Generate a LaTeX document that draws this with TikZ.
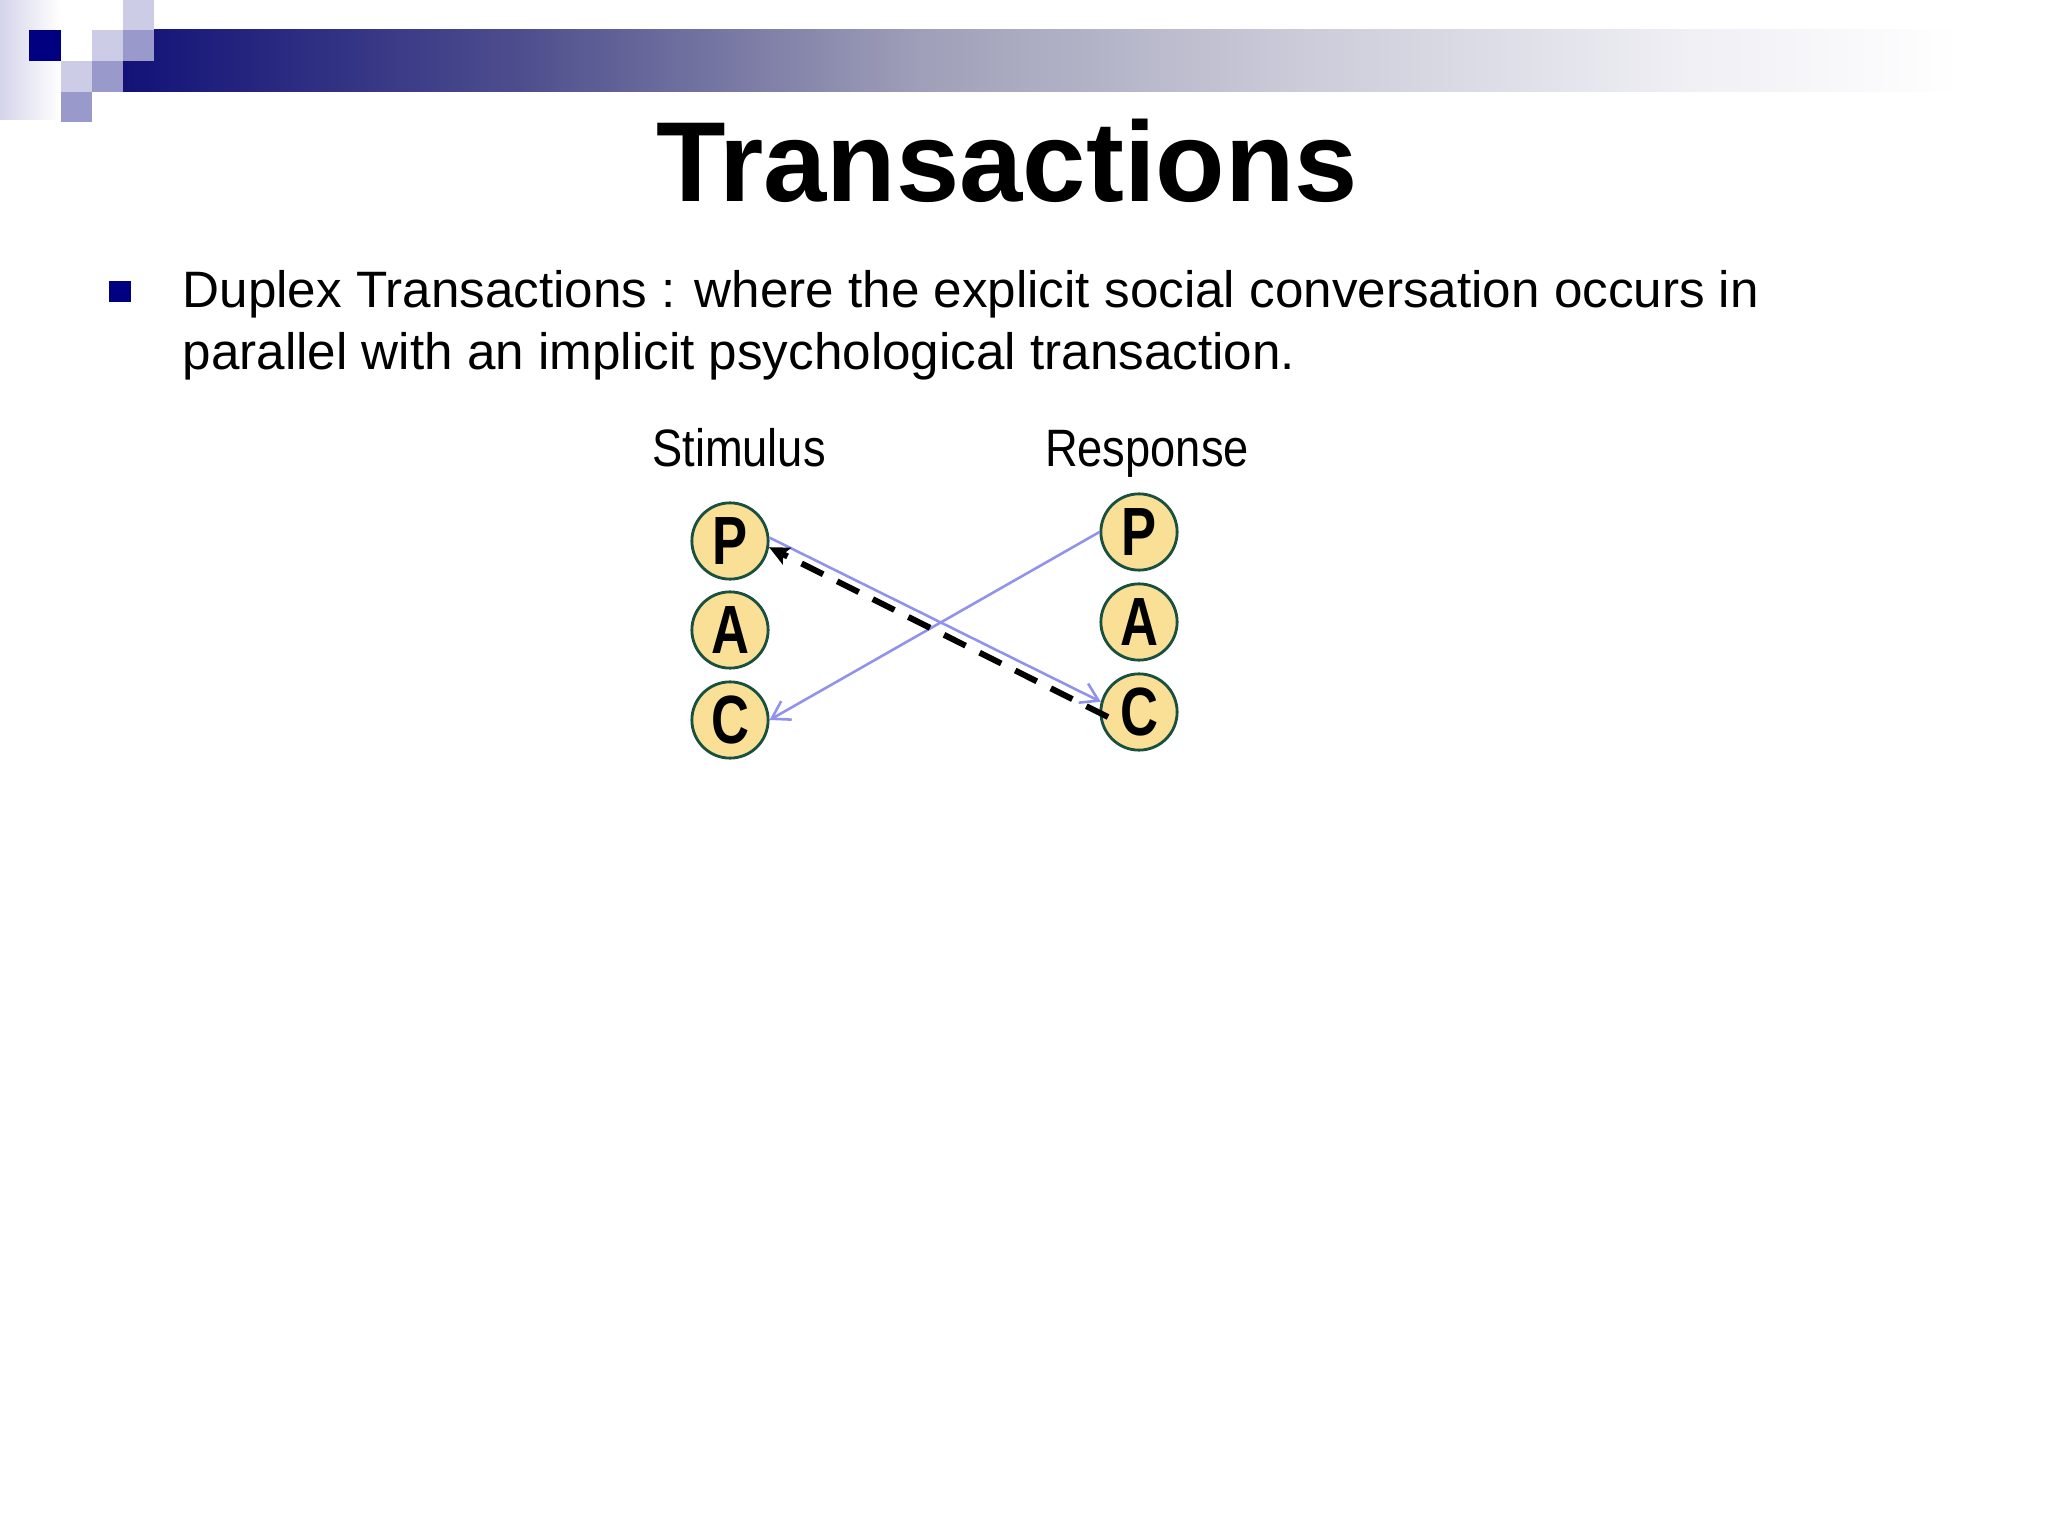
\documentclass[tikz,border=0pt]{standalone}
\usepackage{fontspec}
\setmainfont{Liberation Sans}
\usepackage{graphicx}
\usetikzlibrary{arrows.meta}
\definecolor{navy}{RGB}{0,0,128}
\definecolor{lav}{RGB}{204,204,230}
\definecolor{medlav}{RGB}{153,153,204}
\definecolor{stripc}{RGB}{212,212,234}
\definecolor{bar0}{RGB}{18,18,120}
\definecolor{bar1}{RGB}{78,78,142}
\definecolor{bar2}{RGB}{158,158,184}
\definecolor{bar3}{RGB}{204,204,218}
\definecolor{bar4}{RGB}{240,240,245}
\definecolor{pacfill}{RGB}{249,224,150}
\definecolor{ringgreen}{RGB}{26,80,62}
\definecolor{arrowblue}{RGB}{145,145,238}
\newcommand{\egost}[1]{\scalebox{0.77}[1]{#1}}
\tikzset{
  pac/.style={circle, draw=ringgreen, line width=1pt, fill=pacfill,
    minimum size=26.8pt, inner sep=0pt,
    font=\fontsize{24}{24}\selectfont\bfseries},
  lbl/.style={anchor=base, inner sep=0pt},
  bodytext/.style={anchor=base west, inner sep=0pt, font=\fontsize{18}{21.6}\selectfont},
  blueline/.style={draw=arrowblue, line width=0.9pt, -{Straight Barb[length=6pt,width=7.5pt,line width=0.9pt]}},
  blackdash/.style={draw=black, line width=2.1pt, dash pattern=on 8.5pt off 5.5pt,
    -{Stealth[length=7pt,width=6.5pt,inset=1.5pt]}}
}
\begin{document}
\begin{tikzpicture}[x=0.3515625pt,y=-0.3515625pt]
% background / bounding box
\fill[white] (0,0) rectangle (2048,1536);
\useasboundingbox (0,0) rectangle (2048,1536);

% top-left decoration
\fill[left color=stripc, right color=white] (0,0) rectangle (60,120);
\fill[left color=bar0, right color=bar1] (123,30) rectangle (524,92);
\fill[left color=bar1, right color=bar2] (522,30) rectangle (916,92);
\fill[left color=bar2, right color=bar3] (914,30) rectangle (1308,92);
\fill[left color=bar3, right color=bar4] (1306,30) rectangle (1700,92);
\fill[left color=bar4, right color=white] (1698,30) rectangle (1960,92);
\fill[navy] (29,30) rectangle (61,61);
\fill[lav] (123,0) rectangle (154,30);
\fill[lav] (92,30) rectangle (123,61);
\fill[medlav] (123,30) rectangle (154,61);
\fill[lav] (61,61) rectangle (92,92);
\fill[medlav] (92,61) rectangle (123,92);
\fill[medlav] (61,92) rectangle (92,122);

% title
\node[lbl, font=\fontsize{40}{48}\selectfont\bfseries] (title) at (1007,202) {Transactions};

% bullet
\fill[navy] (109,281) rectangle (131,302);
\node[bodytext] (body1) at (182,308) {Duplex Transactions : where the explicit social conversation occurs in};
\node[bodytext] (body2) at (182,370) {parallel with an implicit psychological transaction.};

% labels
\node[lbl, font=\fontsize{18.5}{22}\selectfont] (stim) at (739,467) {\scalebox{0.86}[1]{Stimulus}};
\node[lbl, font=\fontsize{18.5}{22}\selectfont] (resp) at (1147,467) {\scalebox{0.86}[1]{Response}};

% ego states
\node[pac] (lP) at (730,541) {\egost{P}};
\node[pac] (lA) at (730,630) {\egost{A}};
\node[pac] (lC) at (730,720) {\egost{C}};
\node[pac] (rP) at (1139,532) {\egost{P}};
\node[pac] (rA) at (1139,622) {\egost{A}};
\node[pac] (rC) at (1139,712) {\egost{C}};

% transactions
\draw[blueline] (rP.west) -- (lC.east);
\draw[blueline] (lP.5) -- (rC.165);
\coordinate (dstart) at (1108,717);
\draw[blackdash] (dstart) -- (lP.-9);
\end{tikzpicture}
\end{document}
